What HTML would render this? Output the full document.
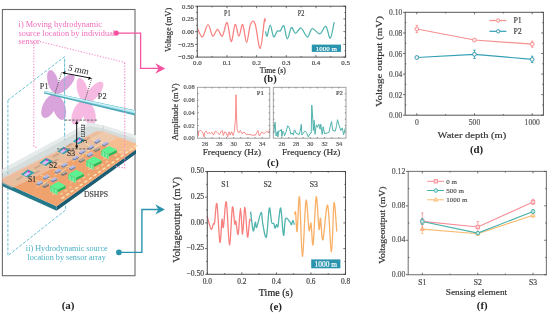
<!DOCTYPE html>
<html><head><meta charset="utf-8"><style>
html,body{margin:0;padding:0;background:#fff;}
body{width:550px;height:315px;overflow:hidden;}
svg{display:block;will-change:transform;}
svg text{font-family:"Liberation Serif",serif;}
</style></head><body>
<svg xmlns="http://www.w3.org/2000/svg" width="550" height="315" viewBox="0 0 550 315">
<rect width="550" height="315" fill="#fff"/>
<rect x="2.4" y="9.5" width="132.6" height="266.2" fill="none" stroke="#6a6a6a" stroke-width="1.1"/>
<path d="M7.9 100.3 L64.6 56.7 L64.6 140 M7.9 100.3 L7.9 255.6 L65.6 210 L65.6 203" fill="none" stroke="#5bb8cc" stroke-width="0.9" stroke-dasharray="3 1.6"/>
<path d="M33.8 41.5 L33.8 146.2 L36.5 147.6" fill="none" stroke="#f58cc8" stroke-width="1.1" stroke-dasharray="1.2 1.6"/>
<ellipse cx="52.9" cy="81.6" rx="5.2" ry="11.8" transform="rotate(-15 52.9 81.6)" fill="#d9a3db"/>
<ellipse cx="64.5" cy="84.2" rx="5.4" ry="13" transform="rotate(46 64.5 84.2)" fill="#d9a3db"/>
<ellipse cx="49.2" cy="106.2" rx="6.4" ry="12.6" transform="rotate(26 49.2 106.2)" fill="#d9a3db"/>
<ellipse cx="59.2" cy="107.6" rx="6.2" ry="12.7" transform="rotate(-17 59.2 107.6)" fill="#d9a3db"/>
<ellipse cx="82.5" cy="90.1" rx="5.2" ry="12.4" transform="rotate(-15 82.5 90.1)" fill="#f6b9e1"/>
<ellipse cx="94.1" cy="92.2" rx="5.4" ry="12.9" transform="rotate(40 94.1 92.2)" fill="#f6b9e1"/>
<ellipse cx="78.8" cy="112.4" rx="5.8" ry="12.9" transform="rotate(24 78.8 112.4)" fill="#f6b9e1"/>
<ellipse cx="88.6" cy="112.7" rx="6.4" ry="12.9" transform="rotate(-19 88.6 112.7)" fill="#f6b9e1"/>
<path d="M64.6 60 V120" stroke="#6cc0d0" stroke-width="0.9" stroke-dasharray="3 1.6" opacity="0.8"/>
<path d="M44 90.8 L135 110.2 L135 115.6 L44 93.4 Z" fill="#4fa9b8"/>
<path d="M44 90.9 L135 110.4 L135 113.4 L44 92.3 Z" fill="#a6e4ec"/>
<path d="M44 91.5 L135 111.7" stroke="#e4fbfd" stroke-width="0.7"/>
<path d="M61.6 72.4 L54.8 94.3 M91.8 78.4 L85 100.2" stroke="#333" stroke-width="0.8" stroke-dasharray="1 1"/>
<path d="M63.5 73 L90.2 78" stroke="#111" stroke-width="1"/>
<path d="M62 72.7 l3.6 -1.6 l-0.6 3.2 z M91.8 78.3 l-3.6 1.6 l0.6 -3.2 z" fill="#111"/>
<text x="0" y="0" font-size="9.2" fill="#222" transform="translate(67.2 70.2) rotate(12) skewX(-5)">5 mm</text>
<text x="44.2" y="89.4" font-size="8.2" text-anchor="middle" fill="#444" stroke="#444" stroke-width="0.18" >P1</text>
<text x="102.2" y="99.2" font-size="8.2" text-anchor="middle" fill="#444" stroke="#444" stroke-width="0.18" >P2</text>
<text font-size="8.3" fill="#f06cba"><tspan x="18.6" y="26.6">i) Moving hydrodynamic</tspan><tspan x="18.6" y="35.6">source location by individual</tspan><tspan x="18.6" y="44.4">sensor</tspan></text>
<path d="M40 41.6 L124.7 62.4" stroke="#f58cc8" stroke-width="1.1" stroke-dasharray="1.2 1.6"/>
<circle cx="116.3" cy="33.1" r="2.6" fill="#f5529f"/>
<path d="M116.3 33.1 H140.6 V68.4 H160" fill="none" stroke="#f5529f" stroke-width="1.3"/>
<path d="M165.3 68.4 L155.2 63.2 L158.6 68.4 L155.2 73.8 Z" fill="#f5529f"/>
<path d="M2.5 182 L56.6 206.2 L56.6 210.7 L2.5 186.3 Z" fill="#26798b"/>
<path d="M56.6 206.2 L136 149.6 L136 153.8 L56.6 210.7 Z" fill="#1b5d72"/>
<path d="M2.5 182 L56.6 206.2 L136 149.6 L136 143.5 L104 131.8 L97 131 L2.5 178 Z" fill="#f0a26e"/>
<path d="M136 143.5 L104 131.8 L90 138 L122 155 L136 149.6 Z" fill="#f6c194" opacity="0.9"/>
<path d="M2.5 169 L89 122.5 L103.3 125.5 L136 135.5 L136 143.5 L104 131.8 L97 131 L2.5 178.5 Z" fill="#d6dddd"/>
<path d="M2.5 169 L89 122.5 L103.3 125.5 L136 135.5 L136 139 L103.3 128.6 L89 126 L2.5 173.2 Z" fill="#e6ebeb"/>
<path d="M103.3 125.5 V131.8" stroke="#c8d2d4" stroke-width="0.8"/>
<path d="M7.9 166.5 V181.5 M64.6 134 V140" stroke="#5bb8cc" stroke-width="0.9" stroke-dasharray="3 1.6" opacity="0.65"/>
<path d="M2.5 178.5 L97 131 L104 131.8 L136 143.5" fill="none" stroke="#e6c9b4" stroke-width="1.2"/>
<path d="M2.5 178.5 L97 131 L104.8 131.5 L118 138 L12 188 L2.5 183.5 Z" fill="#e9d2c2" opacity="0.55"/>
<path d="M9 180.5 L86 139.5 L92 142.5 L15 183.5 Z" fill="#e3c2a4" opacity="0.8"/>
<path d="M21.4 176.1 l-6 3.4 l2 1.1 l6 -3.4 z M33.1 173.3 l5.5 -3.1 l2 1.1 l-5.5 3.1 z M39.7 164.6 l-6 3.4 l2 1.1 l6 -3.4 z M51.4 161.8 l5.5 -3.1 l2 1.1 l-5.5 3.1 z M57.7 153.1 l-6 3.4 l2 1.1 l6 -3.4 z M69.4 150.3 l5.5 -3.1 l2 1.1 l-5.5 3.1 z M71.5 142.8 l-6 3.4 l2 1.1 l6 -3.4 z M83.2 140 l5.5 -3.1 l2 1.1 l-5.5 3.1 z " fill="#c99f80" opacity="0.75"/>
<path d="M34.1 179.5 l9 4 M40.1 174.8 l9 4 M48.1 177.4 l7 3.1 M42.1 184.4 l6 -4.2 M36.6 187.2 l5 -3.5 M52.1 195 l4 -2.8 M49.1 177 l-3 2.1 M52.4 167.5 l9 4 M58.4 162.8 l9 4 M66.4 165.4 l7 3.1 M60.4 172.4 l6 -4.2 M54.9 175.2 l5 -3.5 M70.4 183 l4 -2.8 M67.4 165 l-3 2.1 M70.1 154.3 l9 4 M76.1 149.6 l9 4 M84.1 152.2 l7 3.1 M78.1 159.2 l6 -4.2 M72.6 162 l5 -3.5 M88.1 169.8 l4 -2.8 M85.1 151.8 l-3 2.1 M85.3 143.7 l9 4 M91.3 139 l9 4 M99.3 141.6 l7 3.1 M93.3 148.6 l6 -4.2 M87.8 151.4 l5 -3.5 M103.3 159.2 l4 -2.8 M100.3 141.2 l-3 2.1 " fill="none" stroke="#f7e3a8" stroke-width="0.8" opacity="0.95"/>
<path d="M60.8 198.2 l2.7 -1.9 l1.7 0.85 l-2.7 1.9 z M65.35 194.98 l2.7 -1.9 l1.7 0.85 l-2.7 1.9 z M69.9 191.76 l2.7 -1.9 l1.7 0.85 l-2.7 1.9 z M74.45 188.54 l2.7 -1.9 l1.7 0.85 l-2.7 1.9 z M79 185.32 l2.7 -1.9 l1.7 0.85 l-2.7 1.9 z M83.55 182.1 l2.7 -1.9 l1.7 0.85 l-2.7 1.9 z M88.1 178.88 l2.7 -1.9 l1.7 0.85 l-2.7 1.9 z M92.65 175.66 l2.7 -1.9 l1.7 0.85 l-2.7 1.9 z M97.2 172.44 l2.7 -1.9 l1.7 0.85 l-2.7 1.9 z M101.75 169.22 l2.7 -1.9 l1.7 0.85 l-2.7 1.9 z M106.3 166 l2.7 -1.9 l1.7 0.85 l-2.7 1.9 z M110.85 162.78 l2.7 -1.9 l1.7 0.85 l-2.7 1.9 z M115.4 159.56 l2.7 -1.9 l1.7 0.85 l-2.7 1.9 z M119.95 156.34 l2.7 -1.9 l1.7 0.85 l-2.7 1.9 z M124.5 153.12 l2.7 -1.9 l1.7 0.85 l-2.7 1.9 z M129.05 149.9 l2.7 -1.9 l1.7 0.85 l-2.7 1.9 z M133.6 146.68 l2.7 -1.9 l1.7 0.85 l-2.7 1.9 z " fill="#f4e2b2"/>
<path d="M59.6 194.2 l2.2 -1.5 l1.3 0.7 l-2.2 1.5 z M64.15 190.98 l2.2 -1.5 l1.3 0.7 l-2.2 1.5 z M68.7 187.76 l2.2 -1.5 l1.3 0.7 l-2.2 1.5 z M77.8 181.32 l2.2 -1.5 l1.3 0.7 l-2.2 1.5 z M82.35 178.1 l2.2 -1.5 l1.3 0.7 l-2.2 1.5 z M86.9 174.88 l2.2 -1.5 l1.3 0.7 l-2.2 1.5 z M96 168.44 l2.2 -1.5 l1.3 0.7 l-2.2 1.5 z M100.55 165.22 l2.2 -1.5 l1.3 0.7 l-2.2 1.5 z M105.1 162 l2.2 -1.5 l1.3 0.7 l-2.2 1.5 z M114.2 155.56 l2.2 -1.5 l1.3 0.7 l-2.2 1.5 z M118.75 152.34 l2.2 -1.5 l1.3 0.7 l-2.2 1.5 z M123.3 149.12 l2.2 -1.5 l1.3 0.7 l-2.2 1.5 z " fill="#f0d8a8" opacity="0.85"/>
<g transform="translate(20.9 174.5) scale(1)">
<path d="M0 0 l6.8 -5 l6.9 3.1 l-6.9 4.9 z" fill="#2fa2ad"/>
<path d="M2.4 0.4 l4.6 -3.3 l2.9 1.4 l-4.6 3.3 z" fill="#e2b8f2"/>
<circle cx="7.8" cy="-2.9" r="1.1" fill="#d63cd8"/>
</g>
<g transform="translate(39.2 163) scale(1)">
<path d="M0 0 l6.8 -5 l6.9 3.1 l-6.9 4.9 z" fill="#2fa2ad"/>
<path d="M2.4 0.4 l4.6 -3.3 l2.9 1.4 l-4.6 3.3 z" fill="#e2b8f2"/>
<circle cx="7.8" cy="-2.9" r="1.1" fill="#d63cd8"/>
</g>
<g transform="translate(57.2 151.5) scale(0.95)">
<path d="M0 0 l6.8 -5 l6.9 3.1 l-6.9 4.9 z" fill="#2fa2ad"/>
<path d="M2.4 0.4 l4.6 -3.3 l2.9 1.4 l-4.6 3.3 z" fill="#e2b8f2"/>
<circle cx="7.8" cy="-2.9" r="1.1" fill="#d63cd8"/>
</g>
<g transform="translate(72.8 141.6) scale(0.9)">
<path d="M0 0 l6.8 -5 l6.9 3.1 l-6.9 4.9 z" fill="#2fa2ad"/>
<path d="M2.4 0.4 l4.6 -3.3 l2.9 1.4 l-4.6 3.3 z" fill="#e2b8f2"/>
<circle cx="7.8" cy="-2.9" r="1.1" fill="#d63cd8"/>
</g>
<text x="32" y="181.6" font-size="7.6" text-anchor="middle" fill="#333" stroke="#333" stroke-width="0.18" >S1</text>
<text x="53" y="168" font-size="7.6" text-anchor="middle" fill="#333" stroke="#333" stroke-width="0.18" >S2</text>
<text x="71" y="156.3" font-size="7.6" text-anchor="middle" fill="#333" stroke="#333" stroke-width="0.18" >S3</text>
<path d="M41.7 177.6 l5.6 -3.1 l3.2 1.8 l-5.6 3.1 z" fill="#f6e4b4" opacity="0.9"/>
<path d="M42.9 177.1 l4.4 -2.5 l2.2 1.3 l-4.4 2.5 z" fill="#b2b8ea"/>
<path d="M42.9 177.1 l2.2 1.3 l4.4 -2.5 v1.3 l-4.4 2.5 l-2.2 -1.3 z" fill="#6f7ba6"/>
<path d="M49.5 180.3 l5.6 -3.1 l3.2 1.8 l-5.6 3.1 z" fill="#f6e4b4" opacity="0.9"/>
<path d="M50.7 179.8 l4.4 -2.5 l2.2 1.3 l-4.4 2.5 z" fill="#b2b8ea"/>
<path d="M50.7 179.8 l2.2 1.3 l4.4 -2.5 v1.3 l-4.4 2.5 l-2.2 -1.3 z" fill="#6f7ba6"/>
<path d="M35.2 183.6 l5.6 -3.1 l3.2 1.8 l-5.6 3.1 z" fill="#f6e4b4" opacity="0.9"/>
<path d="M36.4 183.1 l4.4 -2.5 l2.2 1.3 l-4.4 2.5 z" fill="#b2b8ea"/>
<path d="M36.4 183.1 l2.2 1.3 l4.4 -2.5 v1.3 l-4.4 2.5 l-2.2 -1.3 z" fill="#6f7ba6"/>
<path d="M41.2 185.8 l5.6 -3.1 l3.2 1.8 l-5.6 3.1 z" fill="#f6e4b4" opacity="0.9"/>
<path d="M42.4 185.3 l4.4 -2.5 l2.2 1.3 l-4.4 2.5 z" fill="#b9a594"/>
<path d="M42.4 185.3 l2.2 1.3 l4.4 -2.5 v1.3 l-4.4 2.5 l-2.2 -1.3 z" fill="#6e6a70"/>
<path d="M60 165.6 l5.6 -3.1 l3.2 1.8 l-5.6 3.1 z" fill="#f6e4b4" opacity="0.9"/>
<path d="M61.2 165.1 l4.4 -2.5 l2.2 1.3 l-4.4 2.5 z" fill="#b2b8ea"/>
<path d="M61.2 165.1 l2.2 1.3 l4.4 -2.5 v1.3 l-4.4 2.5 l-2.2 -1.3 z" fill="#6f7ba6"/>
<path d="M67.8 168.3 l5.6 -3.1 l3.2 1.8 l-5.6 3.1 z" fill="#f6e4b4" opacity="0.9"/>
<path d="M69 167.8 l4.4 -2.5 l2.2 1.3 l-4.4 2.5 z" fill="#b2b8ea"/>
<path d="M69 167.8 l2.2 1.3 l4.4 -2.5 v1.3 l-4.4 2.5 l-2.2 -1.3 z" fill="#6f7ba6"/>
<path d="M53.5 171.6 l5.6 -3.1 l3.2 1.8 l-5.6 3.1 z" fill="#f6e4b4" opacity="0.9"/>
<path d="M54.7 171.1 l4.4 -2.5 l2.2 1.3 l-4.4 2.5 z" fill="#b2b8ea"/>
<path d="M54.7 171.1 l2.2 1.3 l4.4 -2.5 v1.3 l-4.4 2.5 l-2.2 -1.3 z" fill="#6f7ba6"/>
<path d="M59.5 173.8 l5.6 -3.1 l3.2 1.8 l-5.6 3.1 z" fill="#f6e4b4" opacity="0.9"/>
<path d="M60.7 173.3 l4.4 -2.5 l2.2 1.3 l-4.4 2.5 z" fill="#b9a594"/>
<path d="M60.7 173.3 l2.2 1.3 l4.4 -2.5 v1.3 l-4.4 2.5 l-2.2 -1.3 z" fill="#6e6a70"/>
<path d="M77.7 152.4 l5.6 -3.1 l3.2 1.8 l-5.6 3.1 z" fill="#f6e4b4" opacity="0.9"/>
<path d="M78.9 151.9 l4.4 -2.5 l2.2 1.3 l-4.4 2.5 z" fill="#b2b8ea"/>
<path d="M78.9 151.9 l2.2 1.3 l4.4 -2.5 v1.3 l-4.4 2.5 l-2.2 -1.3 z" fill="#6f7ba6"/>
<path d="M85.5 155.1 l5.6 -3.1 l3.2 1.8 l-5.6 3.1 z" fill="#f6e4b4" opacity="0.9"/>
<path d="M86.7 154.6 l4.4 -2.5 l2.2 1.3 l-4.4 2.5 z" fill="#b2b8ea"/>
<path d="M86.7 154.6 l2.2 1.3 l4.4 -2.5 v1.3 l-4.4 2.5 l-2.2 -1.3 z" fill="#6f7ba6"/>
<path d="M71.2 158.4 l5.6 -3.1 l3.2 1.8 l-5.6 3.1 z" fill="#f6e4b4" opacity="0.9"/>
<path d="M72.4 157.9 l4.4 -2.5 l2.2 1.3 l-4.4 2.5 z" fill="#b2b8ea"/>
<path d="M72.4 157.9 l2.2 1.3 l4.4 -2.5 v1.3 l-4.4 2.5 l-2.2 -1.3 z" fill="#6f7ba6"/>
<path d="M77.2 160.6 l5.6 -3.1 l3.2 1.8 l-5.6 3.1 z" fill="#f6e4b4" opacity="0.9"/>
<path d="M78.4 160.1 l4.4 -2.5 l2.2 1.3 l-4.4 2.5 z" fill="#b9a594"/>
<path d="M78.4 160.1 l2.2 1.3 l4.4 -2.5 v1.3 l-4.4 2.5 l-2.2 -1.3 z" fill="#6e6a70"/>
<path d="M92.9 141.8 l5.6 -3.1 l3.2 1.8 l-5.6 3.1 z" fill="#f6e4b4" opacity="0.9"/>
<path d="M94.1 141.3 l4.4 -2.5 l2.2 1.3 l-4.4 2.5 z" fill="#b2b8ea"/>
<path d="M94.1 141.3 l2.2 1.3 l4.4 -2.5 v1.3 l-4.4 2.5 l-2.2 -1.3 z" fill="#6f7ba6"/>
<path d="M100.7 144.5 l5.6 -3.1 l3.2 1.8 l-5.6 3.1 z" fill="#f6e4b4" opacity="0.9"/>
<path d="M101.9 144 l4.4 -2.5 l2.2 1.3 l-4.4 2.5 z" fill="#b2b8ea"/>
<path d="M101.9 144 l2.2 1.3 l4.4 -2.5 v1.3 l-4.4 2.5 l-2.2 -1.3 z" fill="#6f7ba6"/>
<path d="M86.4 147.8 l5.6 -3.1 l3.2 1.8 l-5.6 3.1 z" fill="#f6e4b4" opacity="0.9"/>
<path d="M87.6 147.3 l4.4 -2.5 l2.2 1.3 l-4.4 2.5 z" fill="#b2b8ea"/>
<path d="M87.6 147.3 l2.2 1.3 l4.4 -2.5 v1.3 l-4.4 2.5 l-2.2 -1.3 z" fill="#6f7ba6"/>
<path d="M92.4 150 l5.6 -3.1 l3.2 1.8 l-5.6 3.1 z" fill="#f6e4b4" opacity="0.9"/>
<path d="M93.6 149.5 l4.4 -2.5 l2.2 1.3 l-4.4 2.5 z" fill="#b9a594"/>
<path d="M93.6 149.5 l2.2 1.3 l4.4 -2.5 v1.3 l-4.4 2.5 l-2.2 -1.3 z" fill="#6e6a70"/>
<path d="M50.1 186 l7.4 3.8 v5.0 l-7.4 -3.8 z" fill="#2fcf68"/>
<path d="M57.5 189.8 l8.1 -4.1 v2.6 l-8.1 4.1 z" fill="#27b85a"/>
<path d="M50.1 186 l8.1 -4.3 l7.4 3.9 l-8.1 4.2 z" fill="#5cf292"/>
<path d="M50.9 186.9 v5.2 M52.4 187.67 v5.2 M53.9 188.44 v5.2 M55.4 189.21 v5.2 M56.9 189.98 v5.2 " stroke="#9dffbf" stroke-width="0.8"/>
<path d="M68.4 174 l7.4 3.8 v5.0 l-7.4 -3.8 z" fill="#2fcf68"/>
<path d="M75.8 177.8 l8.1 -4.1 v2.6 l-8.1 4.1 z" fill="#27b85a"/>
<path d="M68.4 174 l8.1 -4.3 l7.4 3.9 l-8.1 4.2 z" fill="#5cf292"/>
<path d="M69.2 174.9 v5.2 M70.7 175.67 v5.2 M72.2 176.44 v5.2 M73.7 177.21 v5.2 M75.2 177.98 v5.2 " stroke="#9dffbf" stroke-width="0.8"/>
<path d="M86.1 160.8 l7.4 3.8 v5.0 l-7.4 -3.8 z" fill="#2fcf68"/>
<path d="M93.5 164.6 l8.1 -4.1 v2.6 l-8.1 4.1 z" fill="#27b85a"/>
<path d="M86.1 160.8 l8.1 -4.3 l7.4 3.9 l-8.1 4.2 z" fill="#5cf292"/>
<path d="M86.9 161.7 v5.2 M88.4 162.47 v5.2 M89.9 163.24 v5.2 M91.4 164.01 v5.2 M92.9 164.78 v5.2 " stroke="#9dffbf" stroke-width="0.8"/>
<path d="M101.3 150.2 l7.4 3.8 v5.0 l-7.4 -3.8 z" fill="#2fcf68"/>
<path d="M108.7 154 l8.1 -4.1 v2.6 l-8.1 4.1 z" fill="#27b85a"/>
<path d="M101.3 150.2 l8.1 -4.3 l7.4 3.9 l-8.1 4.2 z" fill="#5cf292"/>
<path d="M102.1 151.1 v5.2 M103.6 151.87 v5.2 M105.1 152.64 v5.2 M106.6 153.41 v5.2 M108.1 154.18 v5.2 " stroke="#9dffbf" stroke-width="0.8"/>
<path d="M64.8 120.2 H97 M57 148.8 H91.5" stroke="#7c7c7c" stroke-width="1.2" stroke-dasharray="2.4 1.3"/>
<path d="M76.7 122.5 V147" stroke="#111" stroke-width="1"/>
<path d="M76.7 120.6 l-1.6 3.4 h3.2 z M76.7 149 l-1.6 -3.4 h3.2 z" fill="#111"/>
<text x="0" y="0" font-size="8.4" fill="#222" transform="translate(80.9 143.6) scale(-1 1) rotate(-90)">3 mm</text>
<text x="96" y="197.2" font-size="8.2" text-anchor="middle" fill="#444" textLength="24.2" lengthAdjust="spacingAndGlyphs" stroke="#444" stroke-width="0.18" >DSHPS</text>
<path d="M124.7 62.6 L124.7 168 L114.3 166.2" fill="none" stroke="#f58cc8" stroke-width="1.15" stroke-dasharray="1.3 1.6"/>
<text font-size="8.2" fill="#4cb0c6" text-anchor="middle"><tspan x="66.8" y="251.2">ii) Hydrodynamic source</tspan><tspan x="66.6" y="260.4">location by sensor array</tspan></text>
<circle cx="118.9" cy="252.4" r="2.8" fill="#2a93ad"/>
<path d="M118.9 252.4 H141.9 V209.5 H160" fill="none" stroke="#2a93ad" stroke-width="1.4"/>
<path d="M164.9 209.5 L155.2 204.2 L158.4 209.5 L155.2 214.6 Z" fill="#2a93ad"/>
<text x="68.1" y="309.2" font-size="11" text-anchor="middle" fill="#222" font-weight="bold" >(a)</text>
<path d="M197.4 28.2 C198.25 29.63 200.73 37.42 202.5 36.8 C204.27 36.18 206.3 24.62 208 24.5 C209.7 24.38 211.12 35.3 212.7 36.1 C214.28 36.9 215.9 29.3 217.5 29.3 C219.1 29.3 220.7 37.23 222.3 36.1 C223.9 34.97 225.62 21.58 227.1 22.5 C228.58 23.42 229.85 41.27 231.2 41.6 C232.55 41.93 233.92 25.42 235.2 24.5 C236.48 23.58 237.65 36.1 238.9 36.1 C240.15 36.1 241.42 23.47 242.7 24.5 C243.98 25.53 245.3 42.35 246.6 42.3 C247.9 42.25 249.1 27.32 250.5 24.2 C251.9 21.08 253.38 19.57 255 23.6 C256.62 27.63 258.63 48.95 260.2 48.4 C261.77 47.85 263.55 24.78 264.4 20.3 C265.25 15.82 265.15 21.3 265.3 21.5" fill="none" stroke="#f7807f" stroke-width="1.25"/>
<path d="M265.5 31.4 C265.77 32.18 266.32 37.13 267.1 36.1 C267.88 35.07 269.12 25.08 270.2 25.2 C271.28 25.32 272.47 35.77 273.6 36.8 C274.73 37.83 276.1 32.37 277 31.4 C277.9 30.43 278.42 31.12 279 31 C279.58 30.88 279.68 31.55 280.5 30.7 C281.32 29.85 282.77 24.53 283.9 25.9 C285.03 27.27 286.05 38.62 287.3 38.9 C288.55 39.18 290.03 28.52 291.4 27.6 C292.77 26.68 293.9 33.33 295.5 33.4 C297.1 33.47 299.02 27.4 301 28 C302.98 28.6 305.53 36.9 307.4 37 C309.27 37.1 310.13 29.12 312.2 28.6 C314.27 28.08 317.53 34.27 319.8 33.9 C322.07 33.53 324.05 25.68 325.8 26.4 C327.55 27.12 328.9 38.9 330.3 38.2 C331.7 37.5 333.55 24.87 334.2 22.2" fill="none" stroke="#50b3ad" stroke-width="1.25"/>
<rect x="197.3" y="6.2" width="148.3" height="50.9" fill="none" stroke="#555" stroke-width="1"/>
<path d="M197.3 6.2 h-2.2 M345.6 6.2 h-2.2 M197.3 18.92 h-2.2 M345.6 18.92 h-2.2 M197.3 31.65 h-2.2 M345.6 31.65 h-2.2 M197.3 44.38 h-2.2 M345.6 44.38 h-2.2 M197.3 57.1 h-2.2 M345.6 57.1 h-2.2 " stroke="#3a3a3a" stroke-width="0.7" fill="none"/>
<path d="M197.3 12.56 h-1.2 M345.6 12.56 h-1.2 M197.3 25.29 h-1.2 M345.6 25.29 h-1.2 M197.3 38.01 h-1.2 M345.6 38.01 h-1.2 M197.3 50.74 h-1.2 M345.6 50.74 h-1.2 " stroke="#3a3a3a" stroke-width="0.7" fill="none"/>
<path d="M197.3 57.1 v-2 M197.3 6.2 v2 M226.96 57.1 v-2 M226.96 6.2 v2 M256.62 57.1 v-2 M256.62 6.2 v2 M286.28 57.1 v-2 M286.28 6.2 v2 M315.94 57.1 v-2 M315.94 6.2 v2 M345.6 57.1 v-2 M345.6 6.2 v2 " stroke="#3a3a3a" stroke-width="0.7" fill="none"/>
<path d="M212.13 57.1 v-1.2 M212.13 6.2 v1.2 M241.79 57.1 v-1.2 M241.79 6.2 v1.2 M271.45 57.1 v-1.2 M271.45 6.2 v1.2 M301.11 57.1 v-1.2 M301.11 6.2 v1.2 M330.77 57.1 v-1.2 M330.77 6.2 v1.2 " stroke="#3a3a3a" stroke-width="0.7" fill="none"/>
<text x="194" y="8.5" font-size="6.8" text-anchor="end" fill="#444" stroke="#444" stroke-width="0.18" >0.50</text>
<text x="194" y="21.22" font-size="6.8" text-anchor="end" fill="#444" stroke="#444" stroke-width="0.18" >0.25</text>
<text x="194" y="33.95" font-size="6.8" text-anchor="end" fill="#444" stroke="#444" stroke-width="0.18" >0.00</text>
<text x="194" y="46.67" font-size="6.8" text-anchor="end" fill="#444" stroke="#444" stroke-width="0.18" >&#8722;0.25</text>
<text x="194" y="59.4" font-size="6.8" text-anchor="end" fill="#444" stroke="#444" stroke-width="0.18" >&#8722;0.50</text>
<text x="197.3" y="64.6" font-size="6.9" text-anchor="middle" fill="#444" stroke="#444" stroke-width="0.18" >0.0</text>
<text x="226.96" y="64.6" font-size="6.9" text-anchor="middle" fill="#444" stroke="#444" stroke-width="0.18" >0.1</text>
<text x="256.62" y="64.6" font-size="6.9" text-anchor="middle" fill="#444" stroke="#444" stroke-width="0.18" >0.2</text>
<text x="286.28" y="64.6" font-size="6.9" text-anchor="middle" fill="#444" stroke="#444" stroke-width="0.18" >0.3</text>
<text x="315.94" y="64.6" font-size="6.9" text-anchor="middle" fill="#444" stroke="#444" stroke-width="0.18" >0.4</text>
<text x="345.6" y="64.6" font-size="6.9" text-anchor="middle" fill="#444" stroke="#444" stroke-width="0.18" >0.5</text>
<text x="227.4" y="16" font-size="7.5" text-anchor="middle" fill="#444" textLength="6.6" lengthAdjust="spacingAndGlyphs" stroke="#444" stroke-width="0.18" >P1</text>
<text x="301.1" y="16" font-size="7.5" text-anchor="middle" fill="#444" textLength="6.6" lengthAdjust="spacingAndGlyphs" stroke="#444" stroke-width="0.18" >P2</text>
<rect x="311.8" y="44.6" width="29.2" height="7.3" fill="#2a93ad"/>
<text x="326.4" y="50.7" font-size="7" text-anchor="middle" fill="#fff" stroke="#fff" stroke-width="0.18" >1000 m</text>
<text x="272.8" y="72.6" font-size="8.8" text-anchor="middle" fill="#222" textLength="26" lengthAdjust="spacingAndGlyphs" stroke="#222" stroke-width="0.18" >Time (s)</text>
<text x="270.3" y="81.9" font-size="10.6" text-anchor="middle" fill="#222" font-weight="bold" >(b)</text>
<text x="0" y="0" font-size="7.3" text-anchor="middle" fill="#333" stroke="#333" stroke-width="0.18" textLength="44.2" lengthAdjust="spacingAndGlyphs" transform="translate(168.4 30) rotate(-90)" dy="0.35em">Voltage (mV)</text>
<path d="M197.7 130.4 L198.1 136.2 L198.9 131.5 L200.4 130 L201.8 131.5 L202.9 132.9 L204 136.9 L204.7 132.5 L206.2 131.1 L207.6 133.6 L209.1 132.5 L210.5 133.6 L212 132.2 L213.5 135.1 L215.3 131.1 L217.1 132.2 L219.3 134.7 L221.1 131.5 L222.2 130.4 L223.3 135.5 L224.7 131.8 L226.5 132.9 L227.6 136.9 L229.1 131.8 L230.2 135.1 L231.6 131.8 L233.1 135.5 L234.5 130.4 L235.5 118 L236 94.8 L236.6 118 L237.1 129.7 L238.7 132.9 L240.3 130.5 L241.9 133.7 L244.3 132 L245.9 134.4 L249 134.4 L252.2 135.2 L255.4 135.2 L257.8 130.5 L259.4 136 L261.7 132 L264.1 133.7 L266.5 131.3 L268.9 132.9 L269.6 128.5" fill="none" stroke="#f7807f" stroke-width="0.9" stroke-linejoin="round"/>
<path d="M273.6 134.2 L275 122.2 L276.1 136 L277.3 131.6 L277.9 136.9 L278.8 130.7 L280.1 131.1 L281.4 129.3 L281.9 136.4 L282.8 131.1 L283.7 132.4 L284.6 135.6 L285.9 132.4 L287.7 125.8 L289 127.1 L289.9 129.8 L290.8 134.2 L292.1 132.9 L293.4 135.1 L294.3 129.8 L295.2 130.7 L296.1 133.3 L297.4 133.3 L298.8 135.1 L300.1 131.6 L301.3 124.4 L301.9 135.1 L303.2 133.3 L304.6 131.1 L305.9 131.6 L306.8 133.3 L308.3 137 L309.9 133.7 L311.2 133 L311.8 105.1 L312.8 119 L313.3 130.5 L314.1 120.3 L315 134.3 L316.3 124.8 L317.5 127.3 L318.8 124.1 L320.1 129.2 L320.7 124.1 L322.2 134.3 L323.2 126.7 L324.5 133.7 L327 133 L329 132.4 L330.2 126.7 L331.5 121.6 L332.8 130.5 L335.3 131.1 L336.6 125.4 L337.5 119.7 L339.1 125.4 L340.8 130.5 L342.3 127.9 L343.6 134.9 L345.5 127.3" fill="none" stroke="#50b3ad" stroke-width="1.0" stroke-linejoin="round"/>
<rect x="197.5" y="87.3" width="72.3" height="50.9" fill="none" stroke="#9a9a9a" stroke-width="0.9"/>
<path d="M205.05 138.2 v-1.2 M205.05 87.3 v1.2 M212.2 138.2 v-1.2 M212.2 87.3 v1.2 M219.35 138.2 v-1.2 M219.35 87.3 v1.2 M226.5 138.2 v-1.2 M226.5 87.3 v1.2 M233.65 138.2 v-1.2 M233.65 87.3 v1.2 M240.8 138.2 v-1.2 M240.8 87.3 v1.2 M247.95 138.2 v-1.2 M247.95 87.3 v1.2 M255.1 138.2 v-1.2 M255.1 87.3 v1.2 M262.25 138.2 v-1.2 M262.25 87.3 v1.2 " stroke="#666" stroke-width="0.7" fill="none"/>
<path d="M197.5 131.84 h1.2 M269.8 131.84 h-1.2 M197.5 125.48 h1.2 M269.8 125.48 h-1.2 M197.5 119.12 h1.2 M269.8 119.12 h-1.2 M197.5 112.76 h1.2 M269.8 112.76 h-1.2 M197.5 106.4 h1.2 M269.8 106.4 h-1.2 M197.5 100.04 h1.2 M269.8 100.04 h-1.2 M197.5 93.68 h1.2 M269.8 93.68 h-1.2 " stroke="#666" stroke-width="0.7" fill="none"/>
<text x="205.05" y="145.8" font-size="6.4" text-anchor="middle" fill="#555" stroke="#555" stroke-width="0.18" >26</text>
<text x="219.35" y="145.8" font-size="6.4" text-anchor="middle" fill="#555" stroke="#555" stroke-width="0.18" >28</text>
<text x="233.65" y="145.8" font-size="6.4" text-anchor="middle" fill="#555" stroke="#555" stroke-width="0.18" >30</text>
<text x="247.95" y="145.8" font-size="6.4" text-anchor="middle" fill="#555" stroke="#555" stroke-width="0.18" >32</text>
<text x="262.25" y="145.8" font-size="6.4" text-anchor="middle" fill="#555" stroke="#555" stroke-width="0.18" >34</text>
<text x="231.9" y="155.4" font-size="8.8" text-anchor="middle" fill="#333" textLength="58.5" lengthAdjust="spacingAndGlyphs" stroke="#333" stroke-width="0.18" >Frequency (Hz)</text>
<rect x="273.3" y="87.3" width="72.7" height="50.9" fill="none" stroke="#9a9a9a" stroke-width="0.9"/>
<path d="M281.7 138.2 v-1.2 M281.7 87.3 v1.2 M288.85 138.2 v-1.2 M288.85 87.3 v1.2 M296 138.2 v-1.2 M296 87.3 v1.2 M303.15 138.2 v-1.2 M303.15 87.3 v1.2 M310.3 138.2 v-1.2 M310.3 87.3 v1.2 M317.45 138.2 v-1.2 M317.45 87.3 v1.2 M324.6 138.2 v-1.2 M324.6 87.3 v1.2 M331.75 138.2 v-1.2 M331.75 87.3 v1.2 M338.9 138.2 v-1.2 M338.9 87.3 v1.2 " stroke="#666" stroke-width="0.7" fill="none"/>
<path d="M273.3 131.84 h1.2 M346 131.84 h-1.2 M273.3 125.48 h1.2 M346 125.48 h-1.2 M273.3 119.12 h1.2 M346 119.12 h-1.2 M273.3 112.76 h1.2 M346 112.76 h-1.2 M273.3 106.4 h1.2 M346 106.4 h-1.2 M273.3 100.04 h1.2 M346 100.04 h-1.2 M273.3 93.68 h1.2 M346 93.68 h-1.2 " stroke="#666" stroke-width="0.7" fill="none"/>
<text x="281.7" y="145.8" font-size="6.4" text-anchor="middle" fill="#555" stroke="#555" stroke-width="0.18" >26</text>
<text x="296" y="145.8" font-size="6.4" text-anchor="middle" fill="#555" stroke="#555" stroke-width="0.18" >28</text>
<text x="310.3" y="145.8" font-size="6.4" text-anchor="middle" fill="#555" stroke="#555" stroke-width="0.18" >30</text>
<text x="324.6" y="145.8" font-size="6.4" text-anchor="middle" fill="#555" stroke="#555" stroke-width="0.18" >32</text>
<text x="338.9" y="145.8" font-size="6.4" text-anchor="middle" fill="#555" stroke="#555" stroke-width="0.18" >34</text>
<text x="311.2" y="155.4" font-size="8.8" text-anchor="middle" fill="#333" textLength="58.5" lengthAdjust="spacingAndGlyphs" stroke="#333" stroke-width="0.18" >Frequency (Hz)</text>
<text x="194.6" y="140.3" font-size="6.4" text-anchor="end" fill="#555" stroke="#555" stroke-width="0.18" >0.00</text>
<text x="194.6" y="127.58" font-size="6.4" text-anchor="end" fill="#555" stroke="#555" stroke-width="0.18" >0.02</text>
<text x="194.6" y="114.86" font-size="6.4" text-anchor="end" fill="#555" stroke="#555" stroke-width="0.18" >0.04</text>
<text x="194.6" y="102.14" font-size="6.4" text-anchor="end" fill="#555" stroke="#555" stroke-width="0.18" >0.06</text>
<text x="194.6" y="89.42" font-size="6.4" text-anchor="end" fill="#555" stroke="#555" stroke-width="0.18" >0.08</text>
<text x="260.3" y="95" font-size="6.6" text-anchor="middle" fill="#444" stroke="#444" stroke-width="0.18" >P1</text>
<text x="339.4" y="95.2" font-size="6.6" text-anchor="middle" fill="#444" stroke="#444" stroke-width="0.18" >P2</text>
<text x="272.9" y="165.9" font-size="10.6" text-anchor="middle" fill="#222" font-weight="bold" >(c)</text>
<text x="0" y="0" font-size="7.5" text-anchor="middle" fill="#333" stroke="#333" stroke-width="0.18" textLength="57.2" lengthAdjust="spacingAndGlyphs" transform="translate(175.1 111.95) rotate(-90)" dy="0.35em">Amplitude (mV)</text>
<path d="M416.8 29 L474.5 40 L532.2 44.2" fill="none" stroke="#f78f8f" stroke-width="1.2"/>
<path d="M416.8 25.4 v7.2 M415.6 25.4 h2.4 M415.6 32.6 h2.4" stroke="#f78f8f" stroke-width="0.9" fill="none"/>
<circle cx="416.8" cy="29" r="1.9" fill="#fdf0f0" stroke="#f78f8f" stroke-width="1"/>
<path d="M474.5 38.5 v3 M473.3 38.5 h2.4 M473.3 41.5 h2.4" stroke="#f78f8f" stroke-width="0.9" fill="none"/>
<circle cx="474.5" cy="40" r="1.9" fill="#fdf0f0" stroke="#f78f8f" stroke-width="1"/>
<path d="M532.2 41.2 v6 M531 41.2 h2.4 M531 47.2 h2.4" stroke="#f78f8f" stroke-width="0.9" fill="none"/>
<circle cx="532.2" cy="44.2" r="1.9" fill="#fdf0f0" stroke="#f78f8f" stroke-width="1"/>
<path d="M416.8 57.5 L474.5 54.3 L532.2 59.4" fill="none" stroke="#35a0b5" stroke-width="1.2"/>
<path d="M416.8 56.3 v2.4 M415.6 56.3 h2.4 M415.6 58.7 h2.4" stroke="#35a0b5" stroke-width="0.9" fill="none"/>
<circle cx="416.8" cy="57.5" r="1.9" fill="#fdf0f0" stroke="#35a0b5" stroke-width="1"/>
<path d="M474.5 50.1 v8.4 M473.3 50.1 h2.4 M473.3 58.5 h2.4" stroke="#35a0b5" stroke-width="0.9" fill="none"/>
<circle cx="474.5" cy="54.3" r="1.9" fill="#fdf0f0" stroke="#35a0b5" stroke-width="1"/>
<path d="M532.2 56.2 v6.4 M531 56.2 h2.4 M531 62.6 h2.4" stroke="#35a0b5" stroke-width="0.9" fill="none"/>
<circle cx="532.2" cy="59.4" r="1.9" fill="#fdf0f0" stroke="#35a0b5" stroke-width="1"/>
<rect x="405.2" y="12.3" width="138.2" height="102.9" fill="none" stroke="#555" stroke-width="1"/>
<path d="M405.2 115.2 h-2.2 M543.4 115.2 h-2.2 M405.2 94.64 h-2.2 M543.4 94.64 h-2.2 M405.2 74.08 h-2.2 M543.4 74.08 h-2.2 M405.2 53.52 h-2.2 M543.4 53.52 h-2.2 M405.2 32.96 h-2.2 M543.4 32.96 h-2.2 M405.2 12.4 h-2.2 M543.4 12.4 h-2.2 " stroke="#3a3a3a" stroke-width="0.7" fill="none"/>
<path d="M405.2 104.92 h1.2 M543.4 104.92 h-1.2 M405.2 84.36 h1.2 M543.4 84.36 h-1.2 M405.2 63.8 h1.2 M543.4 63.8 h-1.2 M405.2 43.24 h1.2 M543.4 43.24 h-1.2 M405.2 22.68 h1.2 M543.4 22.68 h-1.2 " stroke="#3a3a3a" stroke-width="0.7" fill="none"/>
<path d="M416.8 115.2 v-2 M416.8 12.3 v2 M474.5 115.2 v-2 M474.5 12.3 v2 M532.2 115.2 v-2 M532.2 12.3 v2 " stroke="#3a3a3a" stroke-width="0.7" fill="none"/>
<path d="M445.65 115.2 v-1.2 M445.65 12.3 v1.2 M503.35 115.2 v-1.2 M503.35 12.3 v1.2 " stroke="#3a3a3a" stroke-width="0.7" fill="none"/>
<text x="402.2" y="118.2" font-size="7.5" text-anchor="end" fill="#555" stroke="#555" stroke-width="0.18" >0.00</text>
<text x="402.2" y="97.64" font-size="7.5" text-anchor="end" fill="#555" stroke="#555" stroke-width="0.18" >0.02</text>
<text x="402.2" y="77.08" font-size="7.5" text-anchor="end" fill="#555" stroke="#555" stroke-width="0.18" >0.04</text>
<text x="402.2" y="56.52" font-size="7.5" text-anchor="end" fill="#555" stroke="#555" stroke-width="0.18" >0.06</text>
<text x="402.2" y="35.96" font-size="7.5" text-anchor="end" fill="#555" stroke="#555" stroke-width="0.18" >0.08</text>
<text x="402.2" y="15.4" font-size="7.5" text-anchor="end" fill="#555" stroke="#555" stroke-width="0.18" >0.10</text>
<text x="416.8" y="124.6" font-size="7.6" text-anchor="middle" fill="#555" stroke="#555" stroke-width="0.18" >0</text>
<text x="474.5" y="124.6" font-size="7.6" text-anchor="middle" fill="#555" stroke="#555" stroke-width="0.18" >500</text>
<text x="532.2" y="124.6" font-size="7.6" text-anchor="middle" fill="#555" stroke="#555" stroke-width="0.18" >1000</text>
<path d="M489.4 20.5 h17" stroke="#f78f8f" stroke-width="1.2"/>
<circle cx="498.2" cy="20.5" r="1.7" fill="#fdf0f0" stroke="#f78f8f" stroke-width="1"/>
<text x="513.4" y="23.2" font-size="7.9" text-anchor="start" fill="#444" stroke="#444" stroke-width="0.18" >P1</text>
<path d="M489.4 31.3 h17" stroke="#35a0b5" stroke-width="1.2"/>
<circle cx="498.2" cy="31.3" r="1.7" fill="#fdf0f0" stroke="#35a0b5" stroke-width="1"/>
<text x="513.4" y="34" font-size="7.9" text-anchor="start" fill="#444" stroke="#444" stroke-width="0.18" >P2</text>
<text x="471.9" y="137.6" font-size="9.2" text-anchor="middle" fill="#333" textLength="68.6" lengthAdjust="spacingAndGlyphs" stroke="#333" stroke-width="0.18" >Water depth (m)</text>
<text x="476.5" y="153.2" font-size="10.8" text-anchor="middle" fill="#222" font-weight="bold" >(d)</text>
<text x="0" y="0" font-size="9.2" text-anchor="middle" fill="#333" stroke="#333" stroke-width="0.18" textLength="91" lengthAdjust="spacingAndGlyphs" transform="translate(378.9 61.6) rotate(-90)" dy="0.35em">Voltage output (mV)</text>
<path d="M207.1 216 C207.77 218.18 210.05 227.8 211.1 229.1 C212.15 230.4 212.82 224.88 213.4 223.8 C213.98 222.72 214.02 225.95 214.6 222.6 C215.18 219.25 216.02 200.43 216.9 203.7 C217.78 206.97 219.05 239.57 219.9 242.2 C220.75 244.83 221.42 221.98 222 219.5 C222.58 217.02 222.68 230.22 223.4 227.3 C224.12 224.38 225.28 199.08 226.3 202 C227.32 204.92 228.48 243.93 229.5 244.8 C230.52 245.67 231.53 210.7 232.4 207.2 C233.27 203.7 234.12 221.47 234.7 223.8 C235.28 226.13 235.32 219.45 235.9 221.2 C236.48 222.95 237.43 236.48 238.2 234.3 C238.97 232.12 239.77 208.1 240.5 208.1 C241.23 208.1 241.87 234.45 242.6 234.3 C243.33 234.15 244.08 206.75 244.9 207.2 C245.72 207.65 246.72 234.82 247.5 237 C248.28 239.18 249.1 222.97 249.6 220.3 C250.1 217.63 250.35 220.88 250.5 221" fill="none" stroke="#f7807f" stroke-width="1.3"/>
<path d="M250.6 211.6 C251.03 214.8 252.42 229.05 253.2 230.8 C253.98 232.55 254.72 222.68 255.3 222.1 C255.88 221.52 255.73 228.9 256.7 227.3 C257.67 225.7 260.07 212.93 261.1 212.5 C262.13 212.07 262.02 220.62 262.9 224.7 C263.78 228.78 265.33 239.77 266.4 237 C267.47 234.23 268.43 210.58 269.3 208.1 C270.17 205.62 270.83 219.48 271.6 222.1 C272.37 224.72 273.32 222.78 273.9 223.8 C274.48 224.82 274.67 228.05 275.1 228.2 C275.53 228.35 276.02 225.07 276.5 224.7 C276.98 224.33 277.3 228.77 278 226 C278.7 223.23 279.78 206.57 280.7 208.1 C281.62 209.63 282.68 233.45 283.5 235.2 C284.32 236.95 284.52 220.78 285.6 218.6 C286.68 216.42 289.03 221.08 290 222.1 C290.97 223.12 290.92 225 291.4 224.7 C291.88 224.4 292.42 220.3 292.9 220.3 C293.38 220.3 294.07 223.97 294.3 224.7" fill="none" stroke="#50b3ad" stroke-width="1.3"/>
<path d="M294.6 214.8 C294.77 214.42 295.18 209.73 295.6 212.5 C296.02 215.27 296.45 234 297.1 231.4 C297.75 228.8 298.62 192.73 299.5 196.9 C300.38 201.07 301.32 255.8 302.4 256.4 C303.48 257 304.9 204.87 306 200.5 C307.1 196.13 308.17 226.43 309 230.2 C309.83 233.97 310.32 220.72 311 223.1 C311.68 225.48 312.23 248.87 313.1 244.5 C313.97 240.13 315.22 199.48 316.2 196.9 C317.18 194.32 318.28 225.43 319 229 C319.72 232.57 319.85 216.5 320.5 218.3 C321.15 220.1 321.72 241.98 322.9 239.8 C324.08 237.62 326.17 203.22 327.6 205.2 C329.03 207.18 330.43 252.08 331.5 251.7 C332.57 251.32 333.12 206.25 334 202.9 C334.88 199.55 336.33 226.82 336.8 231.6" fill="none" stroke="#f9b066" stroke-width="1.3"/>
<rect x="207.3" y="171.5" width="138.2" height="102.8" fill="none" stroke="#555" stroke-width="1.05"/>
<path d="M207.3 171.5 h-2.2 M345.5 171.5 h-2.2 M207.3 197.2 h-2.2 M345.5 197.2 h-2.2 M207.3 222.9 h-2.2 M345.5 222.9 h-2.2 M207.3 248.6 h-2.2 M345.5 248.6 h-2.2 M207.3 274.3 h-2.2 M345.5 274.3 h-2.2 " stroke="#3a3a3a" stroke-width="0.7" fill="none"/>
<path d="M207.3 184.35 h-1.2 M345.5 184.35 h-1.2 M207.3 210.05 h-1.2 M345.5 210.05 h-1.2 M207.3 235.75 h-1.2 M345.5 235.75 h-1.2 M207.3 261.45 h-1.2 M345.5 261.45 h-1.2 " stroke="#3a3a3a" stroke-width="0.7" fill="none"/>
<path d="M207.3 274.3 v-2 M207.3 171.5 v2 M241.85 274.3 v-2 M241.85 171.5 v2 M276.4 274.3 v-2 M276.4 171.5 v2 M310.95 274.3 v-2 M310.95 171.5 v2 M345.5 274.3 v-2 M345.5 171.5 v2 " stroke="#3a3a3a" stroke-width="0.7" fill="none"/>
<path d="M224.58 274.3 v-1.2 M224.58 171.5 v1.2 M259.12 274.3 v-1.2 M259.12 171.5 v1.2 M293.68 274.3 v-1.2 M293.68 171.5 v1.2 M328.23 274.3 v-1.2 M328.23 171.5 v1.2 " stroke="#3a3a3a" stroke-width="0.7" fill="none"/>
<text x="204.2" y="173.2" font-size="7.7" text-anchor="end" fill="#444" stroke="#444" stroke-width="0.18" >0.50</text>
<text x="204.2" y="198.9" font-size="7.7" text-anchor="end" fill="#444" stroke="#444" stroke-width="0.18" >0.25</text>
<text x="204.2" y="224.6" font-size="7.7" text-anchor="end" fill="#444" stroke="#444" stroke-width="0.18" >0.00</text>
<text x="204.2" y="250.3" font-size="7.7" text-anchor="end" fill="#444" stroke="#444" stroke-width="0.18" >&#8722;0.25</text>
<text x="204.2" y="276" font-size="7.7" text-anchor="end" fill="#444" stroke="#444" stroke-width="0.18" >&#8722;0.50</text>
<text x="207.3" y="283.8" font-size="7.4" text-anchor="middle" fill="#444" stroke="#444" stroke-width="0.18" >0.0</text>
<text x="241.85" y="283.8" font-size="7.4" text-anchor="middle" fill="#444" stroke="#444" stroke-width="0.18" >0.2</text>
<text x="276.4" y="283.8" font-size="7.4" text-anchor="middle" fill="#444" stroke="#444" stroke-width="0.18" >0.4</text>
<text x="310.95" y="283.8" font-size="7.4" text-anchor="middle" fill="#444" stroke="#444" stroke-width="0.18" >0.6</text>
<text x="345.5" y="283.8" font-size="7.4" text-anchor="middle" fill="#444" stroke="#444" stroke-width="0.18" >0.8</text>
<text x="225.3" y="186.7" font-size="7.8" text-anchor="middle" fill="#444" stroke="#444" stroke-width="0.18" >S1</text>
<text x="267.6" y="186.7" font-size="7.8" text-anchor="middle" fill="#444" stroke="#444" stroke-width="0.18" >S2</text>
<text x="313.8" y="186.7" font-size="7.8" text-anchor="middle" fill="#444" stroke="#444" stroke-width="0.18" >S3</text>
<rect x="311.2" y="259.4" width="29.2" height="8.9" fill="#2a93ad"/>
<text x="325.8" y="266.5" font-size="7.4" text-anchor="middle" fill="#fff" stroke="#fff" stroke-width="0.18" >1000 m</text>
<text x="275.8" y="296.2" font-size="9.6" text-anchor="middle" fill="#222" textLength="34" lengthAdjust="spacingAndGlyphs" stroke="#222" stroke-width="0.18" >Time (s)</text>
<text x="275.9" y="309.6" font-size="11" text-anchor="middle" fill="#222" font-weight="bold" >(e)</text>
<text x="0" y="0" font-size="9.4" text-anchor="middle" fill="#333" stroke="#333" stroke-width="0.18" textLength="85.8" lengthAdjust="spacingAndGlyphs" transform="translate(176.5 219.95) rotate(-90)" dy="0.35em">Voltageoutput (mV)</text>
<path d="M422.3 229.1 L477.8 233.7 L533 215.3" fill="none" stroke="#f9bb72" stroke-width="1.15"/>
<path d="M422.3 224.6 v9 M421.1 224.6 h2.4 M421.1 233.6 h2.4" stroke="#f9bb72" stroke-width="0.8" fill="none"/>
<path d="M477.8 232.2 v3 M476.6 232.2 h2.4 M476.6 235.2 h2.4" stroke="#f9bb72" stroke-width="0.8" fill="none"/>
<path d="M533 213.3 v4 M531.8 213.3 h2.4 M531.8 217.3 h2.4" stroke="#f9bb72" stroke-width="0.8" fill="none"/>
<path d="M422.3 226.8 l2.1 3.6 h-4.2 z" fill="#fde2c4" stroke="#f9bb72" stroke-width="0.9"/>
<path d="M477.8 231.4 l2.1 3.6 h-4.2 z" fill="#fde2c4" stroke="#f9bb72" stroke-width="0.9"/>
<path d="M533 213 l2.1 3.6 h-4.2 z" fill="#fde2c4" stroke="#f9bb72" stroke-width="0.9"/>
<path d="M422.3 221.4 L477.8 227 L533 202" fill="none" stroke="#f78e98" stroke-width="1.15"/>
<path d="M422.3 212.9 v17 M421.1 212.9 h2.4 M421.1 229.9 h2.4" stroke="#f78e98" stroke-width="0.8" fill="none"/>
<path d="M477.8 221.5 v11 M476.6 221.5 h2.4 M476.6 232.5 h2.4" stroke="#f78e98" stroke-width="0.8" fill="none"/>
<path d="M533 199.4 v5.2 M531.8 199.4 h2.4 M531.8 204.6 h2.4" stroke="#f78e98" stroke-width="0.8" fill="none"/>
<rect x="420.6" y="219.7" width="3.4" height="3.4" fill="#fbd6da" stroke="#f78e98" stroke-width="0.9"/>
<rect x="476.1" y="225.3" width="3.4" height="3.4" fill="#fbd6da" stroke="#f78e98" stroke-width="0.9"/>
<rect x="531.3" y="200.3" width="3.4" height="3.4" fill="#fbd6da" stroke="#f78e98" stroke-width="0.9"/>
<path d="M422.3 221.5 L477.8 233.1 L533 211.5" fill="none" stroke="#45b0a8" stroke-width="1.15"/>
<path d="M422.3 218.5 v6 M421.1 218.5 h2.4 M421.1 224.5 h2.4" stroke="#45b0a8" stroke-width="0.8" fill="none"/>
<path d="M477.8 231.6 v3 M476.6 231.6 h2.4 M476.6 234.6 h2.4" stroke="#45b0a8" stroke-width="0.8" fill="none"/>
<path d="M533 209.5 v4 M531.8 209.5 h2.4 M531.8 213.5 h2.4" stroke="#45b0a8" stroke-width="0.8" fill="none"/>
<circle cx="422.3" cy="221.5" r="1.85" fill="#c6ebe6" stroke="#45b0a8" stroke-width="0.9"/>
<circle cx="477.8" cy="233.1" r="1.85" fill="#c6ebe6" stroke="#45b0a8" stroke-width="0.9"/>
<circle cx="533" cy="211.5" r="1.85" fill="#c6ebe6" stroke="#45b0a8" stroke-width="0.9"/>
<rect x="408.2" y="171.4" width="138.2" height="103.3" fill="none" stroke="#7a7a7a" stroke-width="1.1"/>
<path d="M408.2 274.7 h-2.2 M546.4 274.7 h-2.2 M408.2 240.27 h-2.2 M546.4 240.27 h-2.2 M408.2 205.84 h-2.2 M546.4 205.84 h-2.2 M408.2 171.4 h-2.2 M546.4 171.4 h-2.2 " stroke="#3a3a3a" stroke-width="0.7" fill="none"/>
<path d="M408.2 257.48 h1.2 M546.4 257.48 h-1.2 M408.2 223.05 h1.2 M546.4 223.05 h-1.2 M408.2 188.62 h1.2 M546.4 188.62 h-1.2 " stroke="#3a3a3a" stroke-width="0.7" fill="none"/>
<path d="M422.3 274.7 v-2 M422.3 171.4 v2 M477.8 274.7 v-2 M477.8 171.4 v2 M533 274.7 v-2 M533 171.4 v2 " stroke="#3a3a3a" stroke-width="0.7" fill="none"/>
<path d="M450.05 274.7 v-1.2 M450.05 171.4 v1.2 M505.4 274.7 v-1.2 M505.4 171.4 v1.2 " stroke="#3a3a3a" stroke-width="0.7" fill="none"/>
<text x="405.4" y="276.9" font-size="7.8" text-anchor="end" fill="#555" stroke="#555" stroke-width="0.18" >0.00</text>
<text x="405.4" y="242.47" font-size="7.8" text-anchor="end" fill="#555" stroke="#555" stroke-width="0.18" >0.04</text>
<text x="405.4" y="208.04" font-size="7.8" text-anchor="end" fill="#555" stroke="#555" stroke-width="0.18" >0.08</text>
<text x="405.4" y="173.6" font-size="7.8" text-anchor="end" fill="#555" stroke="#555" stroke-width="0.18" >0.12</text>
<text x="422.3" y="285" font-size="7.6" text-anchor="middle" fill="#444" stroke="#444" stroke-width="0.18" >S1</text>
<text x="477.8" y="285" font-size="7.6" text-anchor="middle" fill="#444" stroke="#444" stroke-width="0.18" >S2</text>
<text x="533" y="285" font-size="7.6" text-anchor="middle" fill="#444" stroke="#444" stroke-width="0.18" >S3</text>
<path d="M427.1 181.3 h16.9" stroke="#f78e98" stroke-width="1"/>
<rect x="434.1" y="179.6" width="3.4" height="3.4" fill="#fbd6da" stroke="#f78e98" stroke-width="0.9"/>
<text x="446.2" y="183.7" font-size="7" text-anchor="start" fill="#555" stroke="#555" stroke-width="0.18" >0 m</text>
<path d="M427.1 190.5 h16.9" stroke="#45b0a8" stroke-width="1"/>
<circle cx="435.8" cy="190.5" r="1.85" fill="#c6ebe6" stroke="#45b0a8" stroke-width="0.9"/>
<text x="446.2" y="192.9" font-size="7" text-anchor="start" fill="#555" stroke="#555" stroke-width="0.18" >500 m</text>
<path d="M427.1 199.8 h16.9" stroke="#f9bb72" stroke-width="1"/>
<path d="M435.8 197.5 l2.1 3.6 h-4.2 z" fill="#fde2c4" stroke="#f9bb72" stroke-width="0.9"/>
<text x="446.2" y="202.2" font-size="7" text-anchor="start" fill="#555" stroke="#555" stroke-width="0.18" >1000 m</text>
<text x="476.5" y="294.6" font-size="9" text-anchor="middle" fill="#333" textLength="61.4" lengthAdjust="spacingAndGlyphs" stroke="#333" stroke-width="0.18" >Sensing element</text>
<text x="482.2" y="308.9" font-size="10.8" text-anchor="middle" fill="#222" font-weight="bold" >(f)</text>
<text x="0" y="0" font-size="8.8" text-anchor="middle" fill="#333" stroke="#333" stroke-width="0.18" textLength="77.2" lengthAdjust="spacingAndGlyphs" transform="translate(381.6 225.25) rotate(-90)" dy="0.35em">Voltageoutput (mV)</text>
</svg>
</body></html>
